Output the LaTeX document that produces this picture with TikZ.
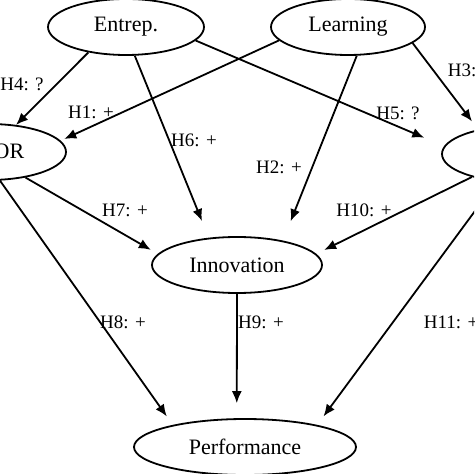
\documentclass[tikz,border=0pt]{standalone}
\usepackage{fontspec}
\setmainfont{Liberation Serif}
\usetikzlibrary{shapes.geometric, arrows.meta}

\begin{document}
\begin{tikzpicture}[x=0.5pt, y=-0.5pt, line width=0.9pt,
  var/.style={ellipse, draw, inner sep=0pt, minimum height=28pt, font=\fontsize{11}{13}\selectfont},
  hyp/.style={font=\fontsize{9.5}{11}\selectfont, inner sep=0pt},
  link/.style={-{Latex[length=6pt,width=5pt]}}]
\useasboundingbox (0,0) rectangle (474,474);
\clip (0,0) rectangle (474,474);
% constructs
\node[var, minimum width=78pt] (entrep) at (126,27) {Entrep.};
\node[var, minimum width=77pt] (learn) at (348,27) {Learning};
\node[var, minimum width=77pt] (leftvar) at (-11,152) {};
\node[var, minimum width=77pt] (rightvar) at (519,154) {};
\node[var, minimum width=85pt] (innov) at (237,265) {Innovation};
\node[var, minimum width=111pt] (perf) at (245,447) {Performance};
\node[font=\fontsize{11}{13}\selectfont, inner sep=0pt] (ortext) at (9,151) {OR};
% hypotheses
\draw[link] (entrep.214) -- (leftvar.45);
\draw[link, shorten >=2pt] (learn.191) -- (leftvar.9);
\draw[link, shorten >=10.75pt] (entrep.349) -- (rightvar.174);
\draw[link, shorten >=5pt] (learn.346) -- (rightvar.149);
\draw[link, shorten >=9pt] (entrep.287) -- (innov.136);
\draw[link, shorten >=10.4pt] (learn.287) -- (innov.28);
\draw[link, shorten >=4pt] (leftvar.325) -- (innov.172);
\draw[link, shorten >=4.4pt] (rightvar.206) -- (innov.8);
\draw[link, shorten >=5.2pt] (leftvar.291) -- (perf.163);
\draw[link, shorten >=7.5pt] (innov.south) -- (perf.106);
\draw[link, shorten >=5.3pt] (rightvar.231) -- (perf.17);
% labels
\node[hyp] (h4) at (22,84) {H4: ?};
\node[hyp] (h1) at (91,112) {H1: +};
\node[hyp] (h5) at (398,113) {H5: ?};
\node[hyp, anchor=west] (h3) at (447,70) {H3:};
\node[hyp] (h6) at (194,140) {H6: +};
\node[hyp] (h2) at (279,167) {H2: +};
\node[hyp] (h7) at (125,210) {H7: +};
\node[hyp] (h10) at (364,210) {H10: +};
\node[hyp] (h8) at (123,322) {H8: +};
\node[hyp] (h9) at (261,322) {H9: +};
\node[hyp, anchor=west] (h11) at (423,322) {H11: +};
\end{tikzpicture}
\end{document}
